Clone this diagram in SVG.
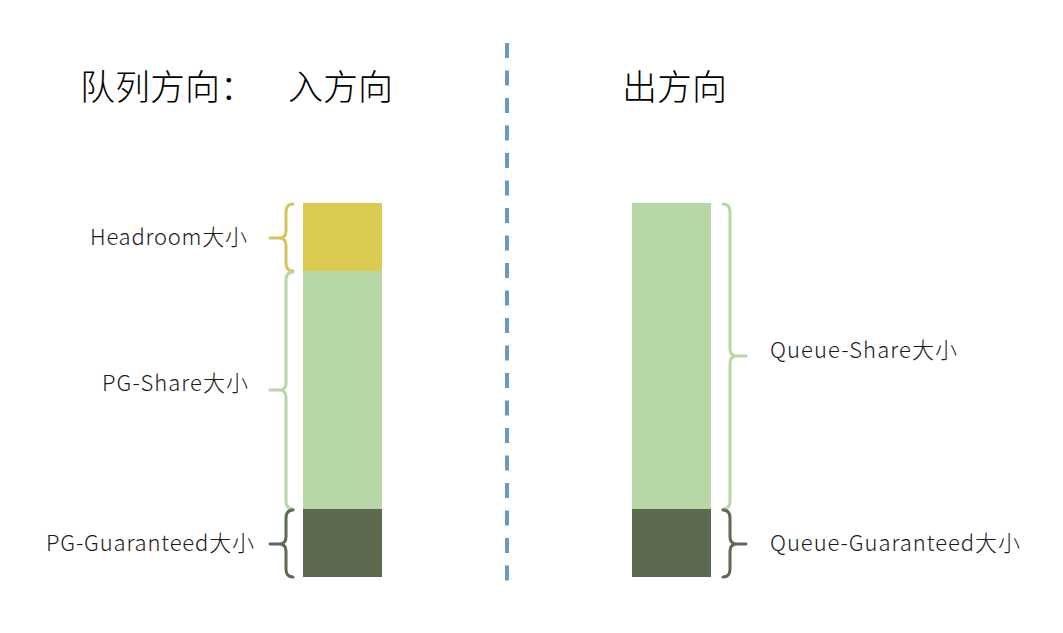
<svg xmlns="http://www.w3.org/2000/svg" width="1063" height="633" viewBox="0 0 1063 633">
<style>
.title{font-family:"Noto Sans CJK SC","Liberation Sans",sans-serif;font-size:35px;font-weight:300;fill:#000}
.lbl{font-family:"Noto Sans CJK SC","Liberation Sans",sans-serif;font-size:22px;font-weight:300;fill:#1a1a1a}
.brace{fill:none;stroke-width:3;stroke-linecap:round;stroke-linejoin:round}
.y{stroke:#D6C65A}.g{stroke:#B8D7A6}.d{stroke:#5C6A50}
</style>
<rect width="1063" height="633" fill="#fff"/>
<g id="titles">
<text class="title" x="80" y="100">队列方向：</text>
<text class="title" x="288" y="100">入方向</text>
<text class="title" x="622" y="100">出方向</text>
</g>
<g id="connectors">
<line x1="507" y1="43" x2="507" y2="592" stroke="#6699C4" stroke-width="4" stroke-dasharray="15 12.5"/>
</g>
<g id="in-bar">
<rect x="303" y="203" width="79" height="68" fill="#DBCB50"/>
<rect x="303" y="271" width="79" height="238" fill="#B8D7A6"/>
<rect x="303" y="509" width="79" height="68" fill="#5C6A50"/>
</g>
<g id="out-bar">
<rect x="632" y="203" width="79" height="306" fill="#B8D7A6"/>
<rect x="632" y="509" width="79" height="68" fill="#5C6A50"/>
</g>
<g id="headroom">
<path class="brace y" d="M293,204 Q286,204 286,212 L286,231 Q286,238 279,238 L270,238 M279,238 Q286,238 286,245 L286,263 Q286,271 293,271"/>
<text class="lbl" x="90" y="245" textLength="157" lengthAdjust="spacing">Headroom大小</text>
</g>
<g id="pg-share">
<path class="brace g" d="M293,272 Q286,272 286,280 L286,383 Q286,390 279,390 L270,390 M279,390 Q286,390 286,397 L286,501 Q286,509 293,509"/>
<text class="lbl" x="102" y="391" textLength="146" lengthAdjust="spacing">PG-Share大小</text>
</g>
<g id="pg-guaranteed">
<path class="brace d" d="M293,510 Q286,510 286,518 L286,537 Q286,544 279,544 L270,544 M279,544 Q286,544 286,551 L286,569 Q286,577 293,577"/>
<text class="lbl" x="46" y="551" textLength="208" lengthAdjust="spacing">PG-Guaranteed大小</text>
</g>
<g id="queue-share">
<path class="brace g" d="M723,204 Q730,204 730,212 L730,349 Q730,356 737,356 L746,356 M737,356 Q730,356 730,363 L730,501 Q730,509 723,509"/>
<text class="lbl" x="770" y="358" textLength="187" lengthAdjust="spacing">Queue-Share大小</text>
</g>
<g id="queue-guaranteed">
<path class="brace d" d="M723,510 Q730,510 730,518 L730,537 Q730,544 737,544 L746,544 M737,544 Q730,544 730,551 L730,569 Q730,577 723,577"/>
<text class="lbl" x="770" y="551" textLength="250" lengthAdjust="spacing">Queue-Guaranteed大小</text>
</g>
</svg>
